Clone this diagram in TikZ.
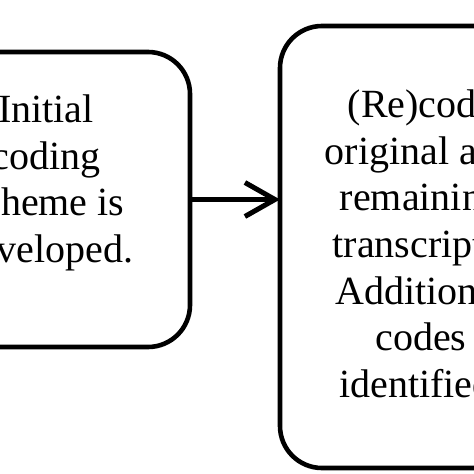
\documentclass[tikz,border=0pt]{standalone}
\usepackage{fontspec}
\setmainfont{Liberation Serif}
\usetikzlibrary{arrows.meta}
\begin{document}
\begin{tikzpicture}[x=1pt,y=-1pt,
  boxstyle/.style={draw=black, line width=4.6pt, rounded corners=42pt, inner sep=0pt, outer sep=0pt},
  txt/.style={align=center, font=\fontsize{40}{46.6}\selectfont, inner sep=0pt},
  arr/.style={line width=5pt, -{Straight Barb[length=30pt,width=34pt,line width=5pt]}}]
\useasboundingbox (0,0) rectangle (474,474);
\node[boxstyle, minimum width=288pt, minimum height=295pt] (lbox) at (46,199.5) {};
\node[boxstyle, minimum width=282pt, minimum height=442pt] (rbox) at (421,247) {};
\node[txt] (ltext) at (46,183) {Initial\\coding\\scheme is\\developed.};
\node[txt] (rtext) at (421,244) {(Re)code\\original and\\remaining\\transcripts.\\Additional\\codes\\identified.};
\draw[arr] (lbox.east) -- (lbox.east -| rbox.west);
\end{tikzpicture}
\end{document}
